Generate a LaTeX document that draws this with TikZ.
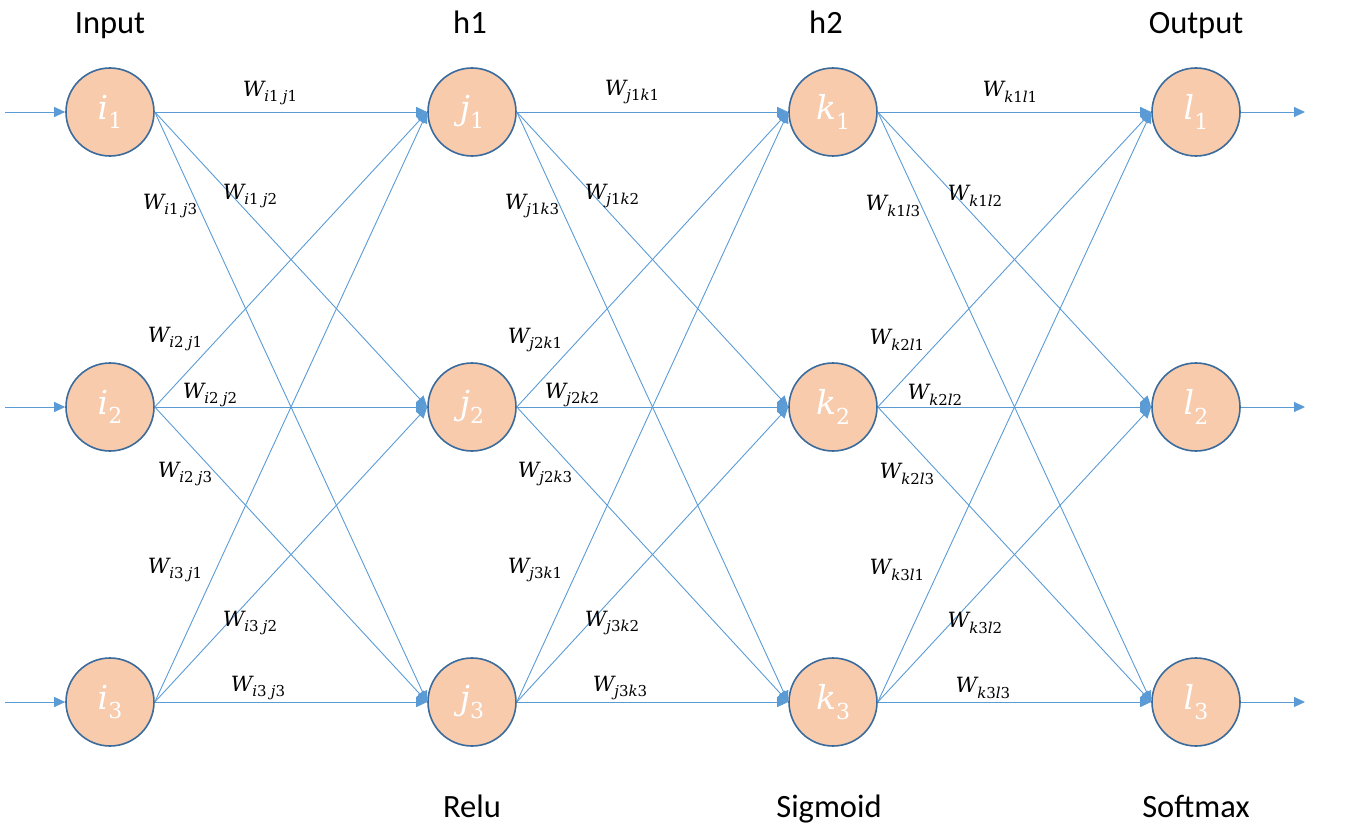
\documentclass[tikz,border=0pt]{standalone}
\usepackage{fontspec}
\setmainfont{Carlito}
\newfontfamily\mfont{DejaVu Serif}
\newcommand\Wl[2]{{\mfont\itshape W}\raisebox{-0.28em}{\fontsize{15}{15}\mfont #1}}
\newcommand\vi[1]{{\itshape #1}}
\newcommand\nl[2]{{\mfont\itshape #1}\raisebox{-0.28em}{\fontsize{22}{22}\mfont #2}}
\usetikzlibrary{arrows.meta}
\definecolor{edgec}{HTML}{5B9BD5}
\definecolor{nfill}{HTML}{F8CBAD}
\definecolor{nborder}{HTML}{3A6B9C}
\begin{document}
\begin{tikzpicture}[x=1pt,y=-1pt,
  neuron/.style={circle,draw=nborder,fill=nfill,line width=1.6pt,minimum size=88pt,inner sep=0pt,text=white,font=\fontsize{33}{33}\selectfont},
  conn/.style={draw=edgec,line width=0.9pt,-{Triangle[length=11pt,width=10pt]}},
  wlab/.style={font=\fontsize{21}{21}\selectfont,inner sep=0pt},
  head/.style={font=\fontsize{32.5}{33}\selectfont,anchor=base,inner sep=0pt}]
\useasboundingbox (0,0) rectangle (1358,840);
% neurons
\foreach \n/\y in {1/112,2/407,3/702}{
  \node[neuron] (i\n) at (110,\y) {\nl{i}{\n}};
  \node[neuron] (j\n) at (472,\y) {\nl{j}{\n}};
  \node[neuron] (k\n) at (833,\y) {\nl{k}{\n}};
  \node[neuron] (l\n) at (1196,\y) {\nl{l}{\n}};
  \coordinate (in\n) at (5,\y);
  \coordinate (out\n) at (1305,\y);
}
% connections
\foreach \a in {1,2,3}{
  \draw[conn] (in\a) -- (i\a.west);
  \draw[conn] (l\a.east) -- (out\a);
  \foreach \b in {1,2,3}{
    \draw[conn] (i\a.east) -- (j\b.west);
    \draw[conn] (j\a.east) -- (k\b.west);
    \draw[conn] (k\a.east) -- (l\b.west);
  }
}
% headers
\node[head] (hin) at (110,34) {Input};
\node[head] (hh1) at (470,34) {h1};
\node[head] (hh2) at (826,34) {h2};
\node[head] (hout) at (1196,34) {Output};
\node[head] (frelu) at (472,817) {Relu};
\node[head] (fsig) at (829,817) {Sigmoid};
\node[head] (fsoft) at (1196,817) {Softmax};
% weight labels layer 1
\node[wlab] (w11) at (270,93) {\Wl{\vi{i}1\;\vi{j}1}{}};
\node[wlab] (w12) at (250,196) {\Wl{\vi{i}1\;\vi{j}2}{}};
\node[wlab] (w13) at (170,206) {\Wl{\vi{i}1\;\vi{j}3}{}};
\node[wlab] (w21) at (175,339) {\Wl{\vi{i}2\;\vi{j}1}{}};
\node[wlab] (w22) at (210,395) {\Wl{\vi{i}2\;\vi{j}2}{}};
\node[wlab] (w23) at (185,474) {\Wl{\vi{i}2\;\vi{j}3}{}};
\node[wlab] (w31) at (175,570) {\Wl{\vi{i}3\;\vi{j}1}{}};
\node[wlab] (w32) at (250,623) {\Wl{\vi{i}3\;\vi{j}2}{}};
\node[wlab] (w33) at (258,688) {\Wl{\vi{i}3\;\vi{j}3}{}};
% layer 2
\node[wlab] (v11) at (632,92) {\Wl{\vi{j}1\vi{k}1}{}};
\node[wlab] (v12) at (612,196) {\Wl{\vi{j}1\vi{k}2}{}};
\node[wlab] (v13) at (532,206) {\Wl{\vi{j}1\vi{k}3}{}};
\node[wlab] (v21) at (535,340) {\Wl{\vi{j}2\vi{k}1}{}};
\node[wlab] (v22) at (572,395) {\Wl{\vi{j}2\vi{k}2}{}};
\node[wlab] (v23) at (545,474) {\Wl{\vi{j}2\vi{k}3}{}};
\node[wlab] (v31) at (535,570) {\Wl{\vi{j}3\vi{k}1}{}};
\node[wlab] (v32) at (612,623) {\Wl{\vi{j}3\vi{k}2}{}};
\node[wlab] (v33) at (620,688) {\Wl{\vi{j}3\vi{k}3}{}};
% layer 3
\node[wlab] (u11) at (1010,92) {\Wl{\vi{k}1\vi{l}1}{}};
\node[wlab] (u12) at (975,196) {\Wl{\vi{k}1\vi{l}2}{}};
\node[wlab] (u13) at (893,206) {\Wl{\vi{k}1\vi{l}3}{}};
\node[wlab] (u21) at (897,340) {\Wl{\vi{k}2\vi{l}1}{}};
\node[wlab] (u22) at (935,395) {\Wl{\vi{k}2\vi{l}2}{}};
\node[wlab] (u23) at (907,474) {\Wl{\vi{k}2\vi{l}3}{}};
\node[wlab] (u31) at (897,570) {\Wl{\vi{k}3\vi{l}1}{}};
\node[wlab] (u32) at (975,623) {\Wl{\vi{k}3\vi{l}2}{}};
\node[wlab] (u33) at (983,688) {\Wl{\vi{k}3\vi{l}3}{}};
\end{tikzpicture}
\end{document}
